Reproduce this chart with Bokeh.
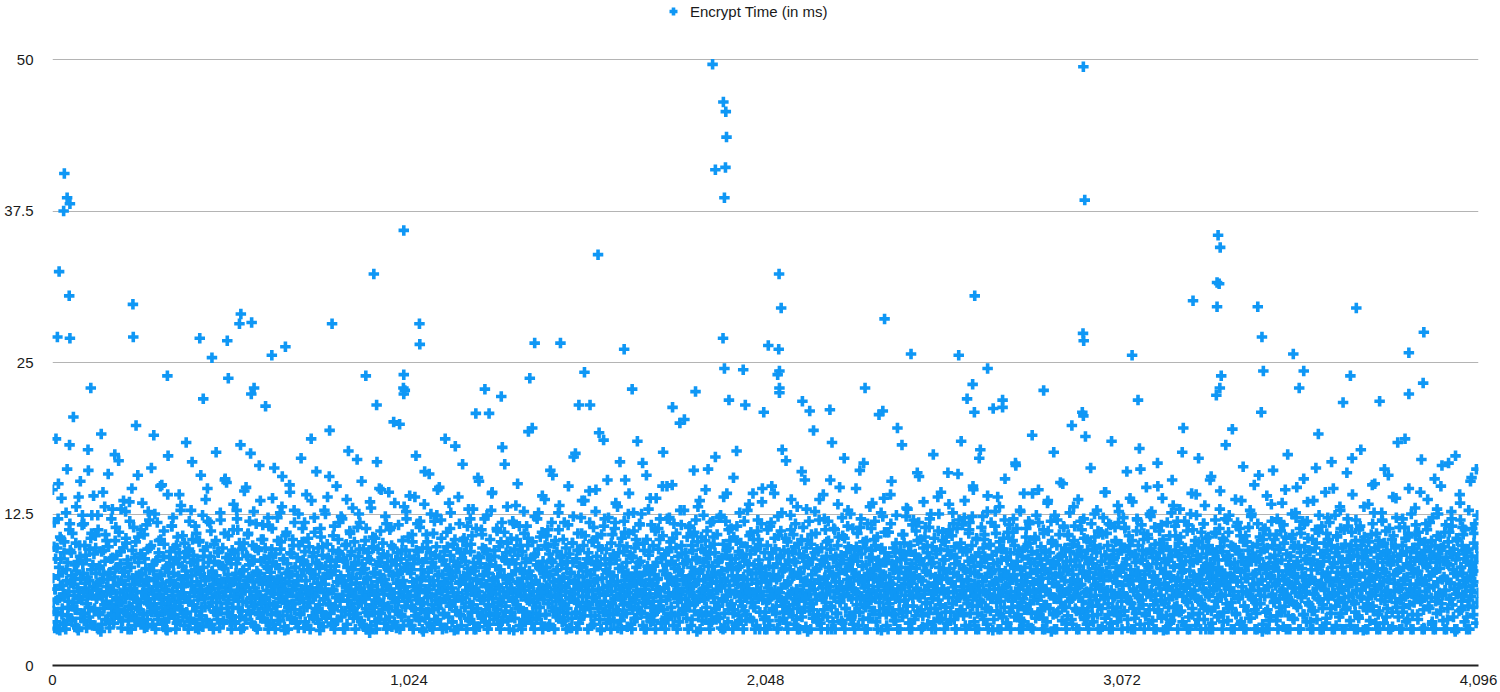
from bokeh.plotting import figure
from bokeh.models import (Range1d, FixedTicker, Legend, LegendItem,
                          NumeralTickFormatter, ColumnDataSource)
from bokeh.embed import file_html
from bokeh.resources import INLINE

# ---------------- data ----------------
# Encrypt time per test, in units of 0.1 ms.
# Each 512-test block is kept as two lists: even-numbered and odd-numbered tests.
BLOCK_SPAN = 512
even_0000 = [
    145, 52, 98, 31, 63, 187, 44, 30, 121, 74, 56, 106, 88, 138, 47, 66,
    35, 102, 59, 30, 79, 162, 41, 53, 112, 117, 68, 93, 37, 49, 205, 58,
    72, 33, 131, 46, 85, 29, 61, 99, 152, 39, 54, 124, 76, 117, 43, 64,
    91, 31, 57, 178, 48, 70, 36, 105, 109, 62, 83, 140, 45, 33, 97, 55,
    68, 124, 30, 42, 80, 59, 191, 34, 71, 95, 47, 131, 108, 53, 65, 38,
    158, 76, 31, 50, 88, 43, 129, 62, 35, 73, 103, 114, 56, 81, 46, 169,
    39, 60, 94, 31, 52, 77, 136, 44, 67, 127, 101, 58, 84, 37, 49, 119,
    63, 30, 146, 72, 41, 55, 89, 33, 198, 61, 47, 106, 36, 75, 52, 112,
    92, 134, 43, 66, 31, 58, 80, 116, 38, 51, 70, 120, 97, 45, 163, 62,
    34, 78, 55, 125, 30, 48, 87, 67, 41, 103, 59, 148, 74, 149, 44, 56,
    111, 36, 63, 30, 82, 50, 173, 39, 69, 94, 47, 115, 58, 122, 76, 42,
    53, 30, 99, 65, 37, 84, 141, 52, 128, 71, 46, 107, 60, 33, 89, 55,
    184, 43, 68, 30, 96, 57, 39, 128, 74, 104, 50, 86, 62, 115, 45, 35,
    79, 54, 30, 103, 66, 157, 41, 58, 32, 90, 73, 48, 137, 37, 61, 119,
    85, 49, 118, 63, 34, 77, 56, 30, 100, 44, 71, 176, 52, 38, 93, 60,
    31, 126, 47, 69, 82, 35, 57, 109, 154, 64, 151, 43, 75, 54, 88, 36,
]
odd_0000 = [
    72, 45, 118, 63, 88, 36, 97, 54, 150, 81, 29, 66, 104, 42, 77, 59,
    93, 57, 34, 126, 70, 85, 48, 61, 182, 95, 39, 74, 109, 52, 67, 83,
    46, 101, 78, 31, 64, 139, 55, 90, 71, 43, 116, 84, 60, 37, 99, 68,
    87, 51, 73, 161, 40, 96, 58, 79, 124, 33, 65, 92, 47, 107, 76, 56,
    63, 112, 44, 82, 69, 28, 94, 57, 143, 75, 50, 86, 38, 103, 61, 71,
    98, 35, 77, 60, 121, 49, 89, 66, 41, 174, 80, 54, 91, 45, 68, 110,
    52, 84, 129, 70, 37, 97, 62, 78, 56, 105, 43, 87, 30, 73, 135, 64,
    81, 48, 95, 58, 114, 67, 39, 102, 74, 53, 157, 85, 46, 69, 92, 36,
    76, 60, 42, 108, 88, 55, 71, 32, 96, 127, 63, 79, 50, 99, 44, 83,
    59, 190, 72, 47, 86, 65, 118, 38, 93, 57, 75, 104, 51, 68, 34, 90,
    100, 45, 80, 62, 29, 141, 77, 54, 89, 70, 43, 115, 61, 84, 97, 49,
    67, 88, 35, 106, 58, 74, 93, 46, 132, 65, 82, 40, 71, 101, 56, 78,
    44, 94, 73, 53, 119, 36, 85, 66, 168, 50, 91, 60, 79, 31, 109, 69,
    87, 57, 102, 41, 75, 63, 48, 124, 81, 95, 55, 70, 38, 98, 146, 62,
    73, 33, 90, 111, 52, 78, 67, 45, 86, 59, 103, 74, 42, 94, 64, 83,
    56, 120, 47, 69, 97, 37, 80, 153, 61, 89, 51, 72, 107, 43, 66, 92,
]
even_0512 = [
    62, 30, 95, 48, 133, 71, 36, 57, 84, 121, 112, 53, 67, 40, 182, 59,
    45, 78, 31, 101, 64, 38, 147, 52, 90, 109, 73, 119, 43, 56, 35, 86,
    69, 127, 33, 50, 97, 61, 30, 76, 44, 165, 58, 39, 104, 70, 116, 54,
    88, 47, 214, 36, 62, 80, 30, 115, 51, 73, 42, 96, 138, 34, 59, 66,
    30, 83, 49, 122, 37, 71, 55, 126, 102, 63, 156, 41, 87, 32, 68, 53,
    110, 45, 30, 77, 60, 143, 38, 92, 51, 104, 66, 128, 46, 81, 35, 57,
    74, 31, 99, 54, 42, 171, 63, 113, 87, 48, 118, 36, 70, 59, 33, 105,
    52, 79, 30, 64, 136, 41, 57, 93, 122, 75, 47, 160, 61, 38, 84, 50,
    29, 113, 67, 44, 98, 32, 55, 72, 125, 39, 60, 139, 89, 51, 194, 43,
    78, 35, 63, 107, 46, 30, 82, 56, 148, 37, 69, 94, 118, 53, 74, 40,
    121, 58, 30, 86, 45, 66, 100, 34, 54, 177, 62, 111, 91, 48, 73, 130,
    39, 57, 83, 30, 68, 43, 114, 51, 125, 96, 64, 37, 152, 55, 79, 32,
    60, 103, 47, 30, 71, 88, 41, 58, 135, 33, 65, 50, 106, 97, 44, 76,
    54, 30, 168, 62, 38, 85, 52, 111, 145, 70, 46, 92, 59, 35, 123, 67,
    30, 81, 49, 143, 40, 63, 114, 99, 56, 74, 201, 36, 52, 87, 31, 68,
    45, 116, 60, 30, 78, 42, 95, 57, 33, 131, 65, 48, 127, 84, 53, 106,
]
odd_0512 = [
    84, 41, 69, 112, 57, 93, 35, 76, 128, 62, 88, 47, 101, 73, 30, 59,
    96, 53, 79, 144, 66, 38, 91, 70, 108, 45, 83, 61, 175, 55, 74, 99,
    49, 87, 64, 32, 117, 78, 58, 95, 42, 71, 136, 86, 52, 67, 104, 39,
    73, 97, 56, 82, 46, 122, 68, 90, 34, 77, 60, 113, 85, 50, 163, 65,
    92, 44, 71, 103, 59, 80, 37, 96, 72, 131, 54, 88, 63, 29, 107, 76,
    57, 84, 48, 69, 149, 93, 40, 75, 62, 99, 51, 118, 81, 66, 36, 89,
    70, 125, 58, 43, 86, 74, 102, 55, 79, 31, 94, 65, 141, 48, 83, 61,
    98, 52, 77, 187, 64, 90, 39, 72, 110, 57, 85, 46, 68, 97, 35, 80,
    63, 106, 44, 91, 73, 54, 128, 67, 82, 41, 100, 59, 76, 156, 50, 87,
    75, 33, 95, 62, 115, 78, 49, 86, 69, 38, 104, 56, 92, 71, 123, 45,
    58, 88, 70, 30, 99, 64, 137, 81, 53, 74, 42, 109, 67, 94, 60, 79,
    47, 102, 85, 57, 72, 170, 39, 90, 63, 118, 76, 52, 84, 34, 96, 68,
    80, 55, 113, 44, 73, 93, 61, 27, 87, 130, 66, 98, 48, 77, 59, 105,
    36, 83, 69, 96, 54, 146, 75, 43, 89, 62, 101, 51, 82, 71, 38, 117,
    65, 91, 47, 78, 112, 58, 86, 32, 74, 97, 60, 134, 45, 83, 68, 93,
    53, 76, 199, 64, 88, 40, 103, 70, 56, 81, 49, 95, 121, 61, 79, 37,
]
even_1024 = [
    57, 140, 33, 79, 48, 102, 30, 65, 88, 41, 173, 54, 117, 94, 61, 37,
    119, 46, 72, 30, 85, 52, 133, 39, 63, 108, 97, 56, 44, 158, 70, 32,
    81, 50, 30, 109, 66, 38, 91, 59, 124, 145, 47, 75, 53, 34, 120, 62,
    30, 87, 43, 69, 187, 55, 31, 98, 64, 40, 78, 113, 126, 51, 36, 73,
    60, 29, 104, 45, 82, 57, 30, 139, 68, 42, 93, 33, 54, 166, 71, 105,
    48, 86, 62, 30, 115, 39, 76, 52, 121, 100, 44, 65, 129, 35, 58, 81,
    30, 70, 47, 155, 61, 32, 89, 54, 112, 108, 41, 74, 57, 36, 96, 67,
    124, 30, 50, 83, 43, 63, 128, 142, 55, 72, 38, 90, 41, 59, 113, 46,
    66, 34, 79, 30, 102, 52, 180, 40, 61, 110, 87, 49, 71, 131, 37, 56,
    30, 94, 64, 44, 75, 119, 117, 53, 39, 84, 60, 104, 150, 47, 68, 33,
    99, 57, 30, 72, 45, 127, 62, 36, 88, 115, 54, 105, 41, 78, 58, 39,
    67, 196, 43, 52, 30, 92, 70, 38, 121, 55, 126, 81, 48, 63, 35, 110,
    30, 76, 59, 137, 42, 66, 107, 98, 51, 74, 34, 161, 57, 118, 85, 45,
    69, 30, 103, 53, 40, 79, 62, 112, 132, 47, 58, 91, 36, 72, 44, 118,
    50, 64, 30, 86, 43, 148, 56, 31, 77, 60, 39, 101, 123, 68, 54, 175,
    44, 30, 95, 63, 35, 82, 49, 122, 109, 57, 73, 41, 136, 107, 66, 52,
]
odd_1024 = [
    90, 58, 76, 33, 108, 69, 84, 47, 139, 62, 95, 71, 40, 87, 55, 114,
    66, 79, 51, 97, 28, 73, 160, 60, 88, 44, 102, 77, 63, 35, 93, 125,
    57, 85, 70, 46, 119, 81, 54, 98, 38, 74, 66, 147, 89, 52, 105, 61,
    75, 42, 94, 68, 83, 31, 110, 57, 79, 134, 49, 91, 72, 64, 36, 100,
    86, 53, 181, 77, 45, 96, 60, 82, 117, 69, 41, 88, 56, 103, 74, 93,
    48, 67, 99, 59, 80, 129, 37, 72, 94, 63, 107, 50, 85, 30, 78, 62,
    113, 71, 44, 90, 152, 57, 84, 68, 39, 97, 75, 54, 121, 81, 46, 65,
    92, 58, 76, 34, 104, 87, 61, 143, 70, 49, 95, 66, 82, 43, 111, 73,
    52, 98, 64, 79, 36, 118, 89, 57, 74, 166, 45, 93, 68, 101, 59, 84,
    71, 40, 105, 63, 87, 55, 29, 96, 78, 132, 50, 69, 91, 62, 115, 47,
    80, 67, 94, 38, 76, 109, 58, 85, 44, 72, 99, 193, 65, 53, 88, 74,
    35, 102, 61, 90, 123, 70, 48, 83, 57, 96, 67, 41, 106, 79, 60, 140,
    86, 54, 73, 99, 42, 81, 64, 112, 32, 92, 75, 58, 87, 48, 157, 69,
    100, 63, 45, 78, 94, 56, 126, 71, 39, 89, 66, 83, 51, 104, 73, 37,
    61, 97, 80, 47, 116, 68, 92, 55, 76, 31, 101, 85, 172, 59, 70, 43,
    88, 52, 109, 74, 65, 95, 40, 81, 136, 57, 99, 68, 46, 84, 62, 78,
]
even_1536 = [
    88, 30, 61, 144, 47, 75, 33, 102, 56, 114, 69, 41, 127, 53, 106, 84,
    63, 192, 38, 50, 30, 96, 72, 44, 115, 121, 58, 79, 35, 153, 66, 43,
    49, 87, 30, 61, 108, 42, 74, 55, 118, 134, 46, 69, 31, 93, 57, 168,
    37, 30, 81, 64, 50, 119, 110, 73, 43, 98, 60, 125, 142, 52, 67, 34,
    30, 90, 56, 111, 39, 76, 104, 62, 185, 48, 85, 117, 70, 45, 125, 58,
    33, 101, 30, 66, 51, 157, 40, 78, 129, 94, 59, 36, 116, 68, 42, 53,
    82, 44, 30, 138, 63, 71, 113, 49, 104, 57, 35, 89, 148, 176, 46, 64,
    30, 75, 54, 121, 38, 60, 122, 97, 72, 43, 149, 105, 58, 83, 41, 67,
    109, 30, 52, 79, 36, 200, 61, 116, 92, 47, 70, 128, 45, 55, 86, 39,
    64, 30, 114, 50, 74, 33, 99, 58, 107, 161, 45, 68, 120, 87, 53, 131,
    42, 77, 30, 61, 106, 37, 56, 124, 94, 71, 145, 48, 111, 65, 82, 35,
    30, 118, 59, 44, 73, 106, 100, 52, 172, 38, 63, 40, 85, 49, 122, 66,
    31, 78, 55, 30, 139, 43, 69, 119, 95, 57, 36, 112, 62, 103, 50, 88,
    74, 30, 155, 46, 59, 34, 103, 115, 67, 81, 41, 126, 53, 37, 92, 60,
    30, 71, 45, 215, 37, 56, 128, 84, 63, 107, 39, 110, 76, 52, 142, 48,
    58, 30, 97, 33, 68, 120, 104, 80, 44, 61, 117, 135, 54, 73, 38, 30,
]
odd_1536 = [
    67, 93, 50, 118, 75, 41, 86, 62, 103, 34, 79, 56, 145, 90, 71, 47,
    98, 59, 83, 29, 108, 72, 64, 186, 53, 88, 44, 96, 77, 61, 122, 38,
    84, 69, 101, 51, 74, 92, 36, 113, 66, 87, 57, 131, 45, 80, 99, 63,
    55, 105, 78, 42, 94, 70, 153, 58, 85, 32, 76, 109, 65, 91, 49, 73,
    89, 46, 126, 68, 97, 54, 81, 39, 100, 74, 60, 116, 86, 43, 69, 167,
    52, 95, 77, 63, 30, 104, 82, 56, 91, 71, 138, 48, 79, 66, 99, 37,
    75, 111, 59, 85, 45, 72, 96, 62, 121, 53, 88, 35, 107, 78, 64, 92,
    40, 83, 148, 67, 94, 57, 73, 102, 48, 86, 69, 33, 117, 80, 58, 97,
    71, 63, 90, 42, 78, 128, 55, 99, 74, 61, 84, 203, 46, 93, 67, 106,
    87, 50, 72, 115, 60, 81, 38, 95, 66, 110, 76, 52, 89, 28, 102, 70,
    57, 136, 79, 44, 96, 63, 85, 71, 54, 103, 41, 88, 74, 162, 59, 92,
    98, 68, 36, 82, 119, 56, 77, 93, 47, 69, 108, 62, 87, 39, 75, 124,
    64, 89, 53, 100, 72, 31, 91, 58, 142, 80, 46, 97, 66, 84, 113, 51,
    79, 43, 106, 70, 88, 61, 177, 74, 35, 94, 57, 82, 101, 65, 49, 90,
    73, 119, 56, 86, 42, 98, 67, 78, 133, 60, 92, 52, 71, 37, 104, 83,
    48, 95, 76, 63, 111, 55, 87, 30, 99, 69, 81, 146, 58, 74, 93, 44,
]
even_2048 = [
    40, 69, 30, 112, 54, 82, 33, 61, 118, 148, 47, 75, 58, 105, 96, 43,
    71, 30, 123, 56, 37, 89, 111, 64, 178, 49, 44, 80, 52, 105, 35, 67,
    30, 93, 46, 59, 124, 137, 73, 41, 108, 86, 55, 117, 38, 62, 30, 100,
    53, 30, 76, 44, 160, 60, 114, 91, 48, 70, 32, 129, 57, 103, 83, 45,
    66, 30, 108, 51, 39, 194, 63, 127, 78, 54, 96, 41, 42, 120, 68, 35,
    30, 87, 57, 141, 46, 72, 112, 59, 102, 40, 119, 81, 65, 153, 49, 30,
    74, 36, 113, 56, 30, 90, 62, 43, 133, 106, 69, 52, 84, 37, 122, 107,
    58, 171, 30, 47, 79, 63, 115, 98, 41, 66, 125, 38, 55, 88, 34, 73,
    30, 61, 146, 50, 109, 95, 70, 44, 114, 121, 57, 82, 38, 167, 64, 30,
    48, 103, 30, 76, 53, 39, 131, 60, 113, 89, 45, 71, 104, 119, 56, 36,
    83, 30, 65, 207, 42, 58, 126, 97, 74, 47, 138, 110, 62, 85, 33, 55,
    30, 110, 51, 68, 117, 152, 43, 79, 60, 42, 93, 37, 124, 57, 30, 72,
    46, 30, 88, 63, 182, 40, 108, 101, 54, 76, 123, 44, 129, 67, 35, 30,
    81, 58, 30, 116, 49, 73, 38, 92, 111, 62, 159, 45, 118, 86, 56, 104,
    30, 70, 41, 135, 59, 106, 78, 52, 99, 34, 65, 114, 121, 47, 84, 30,
    55, 174, 36, 68, 30, 95, 61, 43, 111, 125, 74, 50, 143, 39, 103, 87,
]
odd_2048 = [
    76, 52, 99, 64, 37, 88, 115, 70, 58, 93, 45, 81, 142, 62, 96, 49,
    84, 31, 107, 73, 60, 91, 54, 126, 78, 39, 95, 67, 83, 169, 56, 102,
    69, 87, 43, 79, 112, 61, 94, 50, 74, 34, 98, 85, 63, 131, 47, 77,
    92, 57, 72, 104, 40, 89, 66, 81, 153, 55, 97, 70, 28, 86, 119, 62,
    51, 100, 75, 88, 46, 68, 93, 59, 109, 80, 36, 94, 71, 137, 57, 83,
    97, 64, 41, 85, 121, 73, 52, 90, 67, 30, 103, 78, 61, 96, 48, 184,
    74, 88, 56, 112, 69, 43, 82, 99, 62, 76, 147, 53, 91, 65, 35, 87,
    59, 105, 78, 47, 93, 71, 128, 57, 84, 68, 96, 40, 79, 113, 63, 90,
    44, 76, 98, 60, 86, 33, 74, 161, 55, 92, 69, 82, 102, 50, 71, 97,
    83, 58, 117, 66, 39, 89, 75, 54, 95, 134, 62, 80, 45, 99, 72, 59,
    106, 70, 87, 52, 78, 96, 29, 68, 123, 85, 57, 93, 74, 42, 110, 64,
    90, 48, 73, 141, 60, 84, 67, 97, 37, 79, 55, 101, 86, 196, 63, 77,
    53, 95, 81, 65, 108, 44, 92, 71, 58, 87, 130, 49, 76, 94, 61, 35,
    99, 68, 84, 56, 120, 74, 91, 41, 80, 64, 103, 57, 156, 72, 88, 46,
    70, 32, 97, 83, 62, 114, 51, 77, 93, 66, 43, 89, 75, 125, 59, 98,
    85, 60, 105, 47, 73, 92, 68, 139, 54, 81, 38, 96, 71, 63, 110, 79,
]
even_2560 = [
    63, 30, 102, 48, 77, 35, 159, 56, 112, 91, 44, 69, 107, 126, 60, 38,
    84, 30, 53, 113, 42, 74, 120, 97, 58, 185, 46, 116, 80, 65, 136, 33,
    30, 94, 51, 70, 109, 118, 43, 62, 88, 123, 148, 57, 36, 76, 30, 105,
    49, 66, 30, 171, 54, 82, 114, 41, 123, 61, 104, 90, 47, 73, 34, 140,
    30, 59, 99, 45, 118, 78, 56, 212, 38, 68, 127, 109, 52, 85, 30, 63,
    131, 42, 30, 96, 60, 74, 105, 48, 154, 66, 35, 87, 110, 57, 116, 44,
    30, 71, 53, 103, 121, 81, 40, 167, 58, 113, 92, 49, 64, 30, 127, 37,
    75, 30, 55, 142, 46, 69, 106, 98, 62, 33, 119, 117, 51, 84, 43, 190,
    30, 67, 57, 106, 39, 124, 79, 54, 145, 41, 63, 88, 45, 72, 30, 112,
    50, 30, 93, 61, 36, 134, 111, 76, 47, 59, 119, 101, 68, 42, 176, 30,
    56, 83, 30, 120, 44, 65, 108, 90, 52, 73, 37, 150, 115, 60, 96, 48,
    30, 78, 41, 108, 63, 126, 86, 55, 198, 34, 70, 103, 115, 47, 82, 30,
    59, 137, 30, 66, 43, 94, 112, 53, 76, 121, 38, 40, 89, 61, 104, 45,
    30, 72, 57, 163, 117, 49, 84, 36, 99, 106, 67, 54, 128, 42, 30, 80,
    64, 30, 110, 47, 75, 122, 58, 143, 39, 91, 109, 62, 51, 117, 30, 73,
    35, 185, 30, 56, 87, 44, 114, 102, 69, 48, 132, 118, 60, 79, 41, 95,
]
odd_2560 = [
    59, 87, 44, 106, 72, 95, 61, 133, 80, 37, 92, 68, 51, 117, 76, 98,
    65, 30, 89, 74, 158, 56, 83, 46, 101, 70, 62, 94, 41, 122, 79, 57,
    96, 71, 54, 86, 112, 33, 77, 64, 99, 49, 145, 82, 67, 90, 58, 104,
    43, 75, 93, 62, 178, 85, 52, 69, 97, 38, 108, 73, 60, 88, 127, 47,
    81, 66, 100, 55, 76, 91, 29, 84, 63, 115, 70, 94, 45, 139, 58, 79,
    102, 53, 87, 72, 40, 96, 64, 120, 78, 57, 89, 35, 74, 105, 68, 93,
    61, 83, 48, 110, 75, 99, 56, 165, 70, 86, 42, 95, 63, 128, 79, 52,
    90, 67, 36, 97, 81, 59, 113, 73, 46, 88, 101, 62, 76, 31, 94, 142,
    69, 54, 85, 104, 60, 77, 92, 44, 118, 71, 57, 98, 83, 66, 39, 109,
    78, 95, 63, 50, 87, 136, 72, 59, 93, 80, 28, 103, 68, 85, 55, 124,
    74, 43, 99, 66, 89, 57, 76, 151, 62, 91, 48, 81, 114, 70, 97, 35,
    86, 61, 107, 79, 53, 94, 69, 38, 100, 75, 131, 58, 87, 64, 45, 92,
    71, 98, 56, 82, 119, 67, 90, 47, 78, 105, 60, 189, 73, 34, 95, 84,
    51, 77, 102, 63, 88, 41, 96, 72, 125, 58, 80, 93, 66, 111, 49, 75,
    97, 64, 86, 32, 108, 70, 55, 91, 143, 78, 61, 99, 42, 84, 73, 116,
    62, 89, 48, 95, 74, 57, 103, 81, 68, 36, 92, 127, 59, 77, 100, 53,
]
even_3072 = [
    30, 66, 122, 45, 113, 83, 57, 160, 38, 70, 107, 99, 52, 74, 30, 135,
    47, 61, 30, 92, 43, 111, 120, 78, 56, 179, 34, 65, 116, 87, 50, 104,
    30, 69, 41, 147, 59, 108, 81, 46, 125, 123, 62, 94, 37, 73, 30, 114,
    54, 30, 88, 167, 44, 67, 111, 101, 58, 39, 138, 104, 76, 51, 85, 30,
    63, 118, 30, 48, 95, 35, 72, 126, 153, 57, 42, 82, 115, 107, 66, 49,
    30, 90, 60, 129, 106, 45, 77, 36, 196, 64, 119, 97, 53, 70, 30, 116,
    40, 30, 86, 58, 142, 47, 112, 74, 62, 103, 33, 124, 91, 55, 171, 43,
    68, 30, 110, 50, 79, 117, 38, 132, 61, 105, 84, 46, 99, 57, 30, 72,
    156, 35, 30, 93, 64, 48, 120, 109, 70, 53, 87, 41, 113, 144, 59, 76,
    30, 105, 44, 66, 121, 182, 51, 89, 37, 110, 124, 63, 74, 30, 47, 98,
    58, 30, 80, 137, 42, 69, 118, 95, 55, 113, 107, 36, 86, 61, 164, 30,
    49, 72, 30, 102, 45, 83, 114, 59, 128, 39, 125, 92, 67, 54, 149, 30,
    76, 43, 30, 117, 62, 88, 106, 51, 209, 70, 34, 112, 96, 57, 81, 30,
    140, 46, 65, 30, 108, 40, 74, 119, 59, 161, 52, 104, 85, 68, 37, 121,
    30, 78, 55, 96, 111, 44, 134, 63, 116, 71, 49, 106, 30, 58, 174, 41,
    67, 30, 90, 53, 125, 108, 75, 38, 99, 60, 122, 147, 48, 82, 30, 64,
]
odd_3072 = [
    82, 60, 97, 45, 114, 73, 88, 56, 31, 94, 67, 138, 79, 51, 103, 70,
    63, 90, 39, 85, 76, 121, 58, 99, 47, 72, 162, 87, 54, 95, 66, 109,
    75, 43, 92, 61, 83, 105, 35, 78, 96, 57, 127, 69, 89, 50, 74, 100,
    59, 84, 71, 148, 46, 93, 64, 80, 116, 53, 97, 29, 88, 68, 77, 41,
    98, 65, 86, 55, 107, 74, 37, 91, 62, 132, 81, 48, 95, 70, 58, 119,
    72, 101, 44, 83, 66, 90, 176, 57, 79, 96, 33, 86, 64, 111, 52, 93,
    67, 78, 125, 60, 94, 42, 85, 73, 99, 56, 141, 69, 87, 38, 102, 75,
    89, 54, 71, 97, 63, 117, 48, 82, 30, 92, 77, 59, 106, 68, 153, 84,
    45, 96, 79, 62, 88, 110, 53, 74, 93, 40, 81, 66, 129, 98, 57, 71,
    94, 36, 103, 76, 58, 87, 69, 120, 47, 91, 64, 83, 99, 52, 195, 73,
    61, 85, 97, 43, 115, 70, 80, 56, 92, 34, 77, 136, 65, 89, 102, 49,
    78, 107, 60, 84, 72, 95, 39, 88, 62, 123, 55, 98, 75, 67, 46, 90,
    86, 51, 100, 68, 157, 79, 58, 94, 71, 28, 104, 83, 63, 113, 44, 76,
    97, 65, 82, 37, 89, 72, 133, 57, 99, 80, 53, 91, 66, 108, 41, 85,
    70, 96, 48, 118, 61, 87, 74, 32, 101, 59, 145, 78, 92, 55, 69, 83,
    54, 90, 76, 105, 64, 39, 97, 81, 68, 126, 50, 86, 73, 99, 60, 113,
]
even_3584 = [
    30, 109, 56, 73, 42, 154, 117, 87, 61, 36, 119, 105, 68, 50, 94, 30,
    79, 45, 30, 136, 59, 70, 112, 101, 38, 83, 191, 124, 54, 66, 30, 115,
    47, 30, 92, 62, 143, 35, 109, 77, 55, 104, 118, 69, 43, 168, 30, 58,
    85, 30, 124, 49, 72, 106, 97, 60, 40, 131, 113, 64, 81, 30, 52, 112,
    30, 75, 46, 159, 121, 88, 57, 68, 33, 99, 110, 141, 53, 76, 30, 44,
    120, 62, 30, 90, 39, 73, 115, 178, 56, 84, 103, 48, 106, 65, 30, 95,
    51, 30, 133, 70, 37, 82, 108, 60, 117, 45, 126, 150, 58, 74, 30, 89,
    42, 103, 30, 66, 54, 126, 119, 79, 35, 162, 61, 111, 93, 47, 71, 30,
    113, 57, 30, 86, 44, 139, 107, 68, 99, 52, 122, 77, 184, 40, 63, 30,
    91, 55, 30, 121, 48, 72, 114, 105, 36, 84, 59, 109, 146, 50, 67, 30,
    80, 42, 30, 97, 64, 130, 116, 57, 76, 38, 110, 104, 88, 53, 170, 30,
    69, 46, 30, 102, 61, 83, 112, 137, 49, 74, 118, 94, 56, 34, 122, 30,
    65, 154, 30, 79, 43, 107, 125, 58, 89, 106, 148, 51, 71, 37, 98, 30,
    62, 116, 30, 84, 47, 167, 110, 68, 55, 127, 115, 92, 40, 76, 30, 173,
    59, 30, 103, 64, 45, 141, 120, 81, 53, 114, 108, 70, 36, 95, 61, 30,
    86, 49, 128, 30, 73, 57, 155, 113, 66, 42, 109, 117, 78, 162, 52, 90,
]
odd_3584 = [
    93, 57, 80, 119, 66, 42, 98, 74, 61, 88, 135, 52, 95, 70, 36, 84,
    71, 104, 59, 87, 45, 97, 163, 64, 79, 55, 110, 82, 30, 92, 68, 76,
    50, 86, 101, 63, 74, 39, 95, 122, 58, 89, 72, 47, 99, 81, 66, 146,
    84, 60, 93, 33, 107, 77, 54, 90, 69, 128, 43, 85, 97, 62, 75, 56,
    100, 73, 48, 88, 115, 65, 94, 37, 82, 70, 171, 59, 91, 79, 51, 103,
    67, 96, 84, 41, 112, 74, 57, 99, 63, 89, 29, 131, 76, 93, 68, 46,
    87, 55, 102, 78, 60, 94, 72, 149, 49, 83, 66, 97, 35, 109, 80, 64,
    98, 45, 73, 91, 58, 120, 85, 69, 101, 53, 77, 40, 95, 62, 157, 88,
    71, 83, 56, 104, 32, 90, 75, 61, 97, 138, 48, 86, 67, 79, 114, 54,
    92, 64, 99, 44, 81, 70, 187, 57, 94, 73, 38, 106, 82, 63, 89, 125,
    59, 97, 76, 52, 86, 108, 67, 93, 42, 78, 100, 61, 143, 72, 55, 90,
    84, 31, 95, 70, 117, 57, 81, 98, 64, 47, 88, 74, 103, 36, 91, 66,
    77, 99, 53, 85, 129, 69, 92, 60, 80, 45, 97, 165, 58, 86, 73, 110,
    62, 89, 71, 38, 102, 83, 55, 94, 68, 121, 50, 79, 96, 63, 28, 87,
    105, 74, 59, 92, 67, 134, 81, 46, 99, 76, 57, 88, 112, 65, 93, 40,
    71, 96, 54, 83, 152, 62, 90, 78, 48, 101, 69, 85, 35, 97, 124, 60,
]
block_pairs = [
    (0, even_0000, odd_0000), (512, even_0512, odd_0512),
    (1024, even_1024, odd_1024), (1536, even_1536, odd_1536),
    (2048, even_2048, odd_2048), (2560, even_2560, odd_2560),
    (3072, even_3072, odd_3072), (3584, even_3584, odd_3584),
]

# slow runs (ms) and the test index at which they happened
outlier_test = [
    14, 19, 32, 34, 42, 48, 50, 50, 110, 231, 232, 330, 423, 433, 458, 502,
    505, 537, 541, 571, 572, 579, 630, 669, 803, 900, 923, 931, 1008, 1009,
    1009, 1009, 1012, 1054, 1055, 1216, 1242, 1254, 1289, 1371, 1385, 1459,
    1512, 1528, 1544, 1567, 1642, 1665, 1781, 1847, 1896, 1904, 1926, 1927,
    1930, 1930, 1933, 1934, 1936, 1943, 1984, 2043, 2056, 2083, 2086, 2087,
    2088, 2088, 2088, 2093, 2154, 2175, 2233, 2334, 2385, 2390, 2466, 2603,
    2627, 2643, 2648, 2649, 2686, 2729, 2729, 2847, 2958, 2960, 2961, 2961,
    2962, 2965, 3101, 3118, 3276, 3343, 3345, 3345, 3348, 3351, 3353, 3354,
    3357, 3462, 3474, 3478, 3564, 3581, 3594, 3707, 3728, 3745, 3812, 3896,
    3896, 3937, 3939,
]
outlier_ms = [
    27.1, 32.5, 37.5, 40.6, 38.6, 30.5, 38.1, 27.0, 22.9, 29.8, 27.1, 23.9,
    27.0, 22.0, 25.4, 26.8, 23.7, 28.2, 29.0, 22.4, 28.3, 22.9, 25.6, 26.3,
    28.2, 23.9, 32.3, 21.5, 22.9, 35.9, 24.0, 22.4, 22.7, 28.2, 26.5, 20.8,
    22.8, 20.8, 22.2, 23.7, 26.6, 26.6, 21.5, 24.2, 21.5, 33.9, 26.1, 22.8,
    21.3, 22.6, 49.6, 40.9, 27.0, 46.5, 38.6, 24.5, 41.1, 45.7, 43.6, 21.9,
    24.4, 20.9, 26.4, 24.0, 26.1, 32.3, 24.3, 22.9, 22.5, 29.5, 21.8, 21.0,
    21.1, 22.9, 21.0, 28.6, 25.7, 25.6, 22.0, 23.2, 20.9, 30.5, 24.5, 21.9,
    21.3, 22.7, 20.9, 27.4, 49.4, 20.6, 26.8, 38.4, 25.6, 21.9, 30.1, 22.3,
    31.6, 29.6, 35.5, 31.5, 22.9, 34.5, 23.9, 29.6, 27.1, 24.3, 25.7, 22.9,
    24.3, 21.7, 23.9, 29.5, 21.8, 25.8, 22.4, 23.3, 27.5,
]

x_ticks = [0, 1024, 2048, 3072, 4096]
y_ticks = [0, 12.5, 25, 37.5, 50]
series_name = "Encrypt Time (in ms)"

# ---------------- assemble ----------------
test_idx, enc_ms = [], []
for start, ev, od in block_pairs:
    for parity, vals in ((0, ev), (1, od)):
        step = BLOCK_SPAN / len(vals)
        for i, v in enumerate(vals):
            test_idx.append(start + i * step + parity * step / 2)
            enc_ms.append(v / 10.0)
test_idx += outlier_test
enc_ms += outlier_ms
src = ColumnDataSource(dict(x=test_idx, y=enc_ms))

FONT = "Liberation Sans"
BLUE = "#0f97f5"
TXT = "#1a1a1a"
FS = "15px"

p = figure(width=1500, height=692, output_backend="svg", toolbar_location=None,
           x_range=Range1d(0, 4096), y_range=Range1d(0, 54.87),
           min_border_left=52, min_border_right=22, min_border_top=0,
           min_border_bottom=27, outline_line_color=None,
           background_fill_color="white", border_fill_color="white")

r = p.scatter("x", "y", source=src, marker="cross", size=10.5,
              line_width=3.6, line_color=BLUE)

p.xaxis.ticker = FixedTicker(ticks=x_ticks)
p.xaxis.formatter = NumeralTickFormatter(format="0,0")
p.yaxis.ticker = FixedTicker(ticks=y_ticks)
p.yaxis.formatter = NumeralTickFormatter(format="0.[0]")

for ax in (p.xaxis[0], p.yaxis[0]):
    ax.major_tick_out = 0
    ax.major_tick_in = 0
    ax.minor_tick_out = 0
    ax.minor_tick_in = 0
    ax.major_label_text_font = FONT
    ax.major_label_text_font_size = FS
    ax.major_label_text_color = TXT
p.xaxis.axis_line_color = "#222222"
p.xaxis.axis_line_width = 2
p.xaxis.major_label_standoff = 9
p.yaxis.axis_line_color = None
p.yaxis.major_label_standoff = 19

p.xgrid.grid_line_color = None
p.ygrid.grid_line_color = "#b4b4b4"
p.ygrid.grid_line_width = 1.2

legend = Legend(items=[LegendItem(label=series_name, renderers=[r])],
                location=(610, 644), orientation="horizontal",
                border_line_color=None, background_fill_alpha=0,
                padding=0, margin=0, glyph_width=22, glyph_height=20,
                label_text_font=FONT, label_text_font_size=FS,
                label_text_color=TXT, label_standoff=6)
p.add_layout(legend)

open("out.html", "w").write(file_html(p, INLINE))
